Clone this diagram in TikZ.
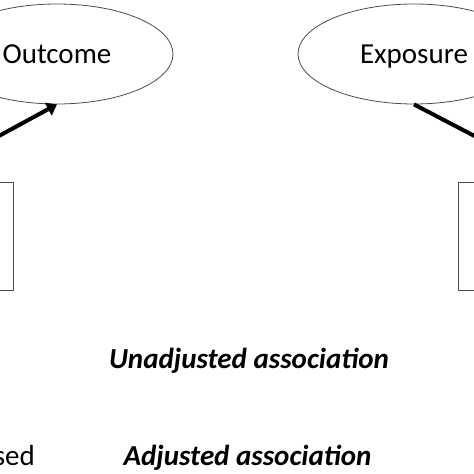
\documentclass[tikz,border=0pt]{standalone}
\usepackage{fontspec}
\setmainfont{Carlito}
\usetikzlibrary{shapes.geometric,arrows.meta}

\tikzset{
  var/.style={ellipse, draw=black!70, line width=0.8pt, minimum width=232pt,
    minimum height=100pt, inner sep=0pt, text depth=0pt},
  varbox/.style={rectangle, draw=black!70, line width=0.8pt, minimum width=120pt,
    minimum height=108pt, inner sep=0pt},
  path/.style={line width=4pt, black},
  caption/.style={inner sep=0pt, font=\bfseries\itshape}
}

\begin{document}
\begin{tikzpicture}[x=1pt, y=1pt]
% Define common parameters
\def\picsize{474}

\fontsize{29}{34}\selectfont
\useasboundingbox (0,0) rectangle (\picsize,\picsize);
\clip (0,0) rectangle (\picsize,\picsize);

% Variables
\node[var] (out) at (57,420) {Outcome};
\node[var] (exp) at (414,420) {Exposure};

% Boxes
\node[varbox] (lbox) at (-47,238) {};
\node[varbox] (rbox) at (518,238) {};

% Paths
\coordinate (lfree) at (-60,306);
\coordinate (rfree) at (530,309);
\draw[path, -{Triangle[length=10pt, width=14pt]}] (lfree) -- (out.south);
\draw[path] (exp.south) -- (rfree);

% Captions
\node[caption, anchor=base] (unadj) at (249,105) {Unadjusted association};
\node[caption, anchor=base] (adj) at (247.5,9) {Adjusted association};
\node[inner sep=0pt, anchor=base east] (sed) at (35,9) {sed};

\end{tikzpicture}
\end{document}
